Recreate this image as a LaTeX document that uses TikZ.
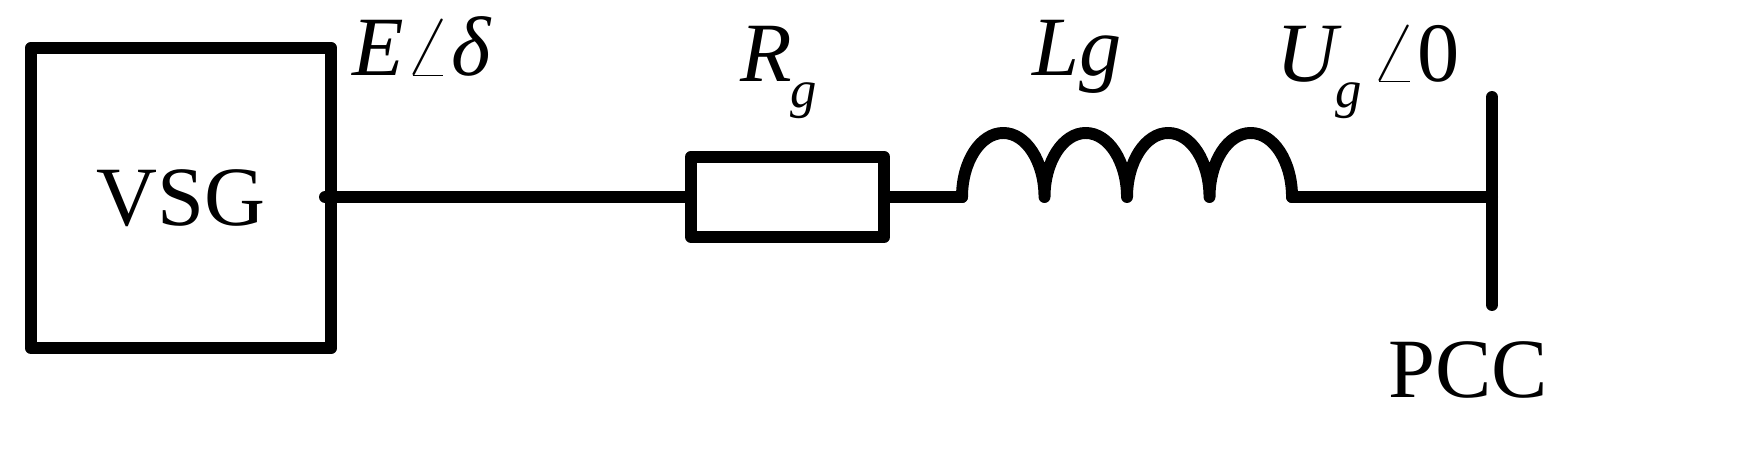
\documentclass[tikz,border=0pt]{standalone}
\usepackage{fontspec}
\setmainfont{Liberation Serif}
\begin{document}
\begin{tikzpicture}[x=0.01cm,y=-0.01cm,
  wire/.style={line width=3.4pt,line cap=round,line join=round},
  lbl/.style={font=\fontsize{24}{28}\selectfont,inner sep=0pt,anchor=base west},
  sub/.style={font=\fontsize{15}{18}\selectfont\itshape,inner sep=0pt,anchor=base west}]
\useasboundingbox (0,0) rectangle (1737,465);
\node[draw,wire,minimum width=3cm,minimum height=3cm,anchor=north west,font=\fontsize{24}{28}\selectfont] (vsg) at (25,42) {VSG};
\coordinate (a) at (325,197);
\node[draw,wire,minimum width=1.93cm,minimum height=0.8cm,anchor=west,inner sep=0pt] (r) at (685,197) {};
\coordinate (l0) at (962,197);
\coordinate (l4) at (1292,197);
\coordinate (pt) at (1492,97);
\coordinate (pb) at (1492,305);
\coordinate (pm) at (1492,197);
\draw[wire] (a) -- (r.west);
\draw[wire] (r.east) -- (l0);
\draw[wire] (l0) arc[start angle=180,end angle=360,x radius=41.25,y radius=64]
  arc[start angle=180,end angle=360,x radius=41.25,y radius=64]
  arc[start angle=180,end angle=360,x radius=41.25,y radius=64]
  arc[start angle=180,end angle=360,x radius=41.25,y radius=64];
\draw[wire] (l4) -- (pm);
\draw[wire] (pt) -- (pb);
\node[lbl] (e) at (352,76) {\textit{E}$\angle$\textit{δ}};
\node[lbl] (rg) at (740,82) {\textit{R}};
\node[sub] (rgs) at (790,108) {g};
\node[lbl] (lg) at (1032,76) {\textit{Lg}};
\node[lbl] (ug) at (1276,82) {\textit{U}};
\node[sub] (ugs) at (1335,108) {g};
\node[lbl] (ang) at (1370,82) {$\angle$0};
\node[lbl] (pcc) at (1388,398) {PCC};
\end{tikzpicture}
\end{document}
